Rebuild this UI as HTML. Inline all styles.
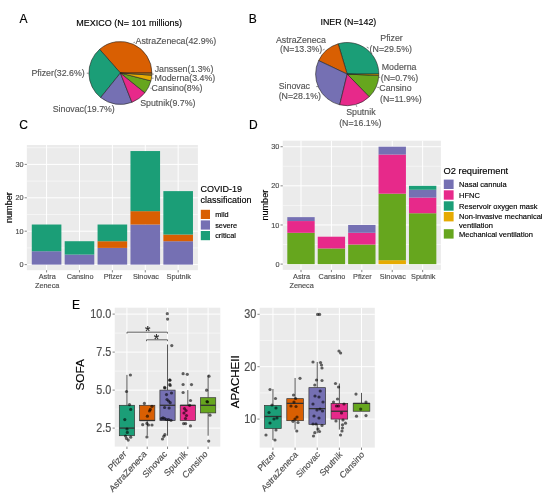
<!DOCTYPE html>
<html><head><meta charset="utf-8"><style>
html,body{margin:0;padding:0;background:#fff;}
svg{display:block;font-family:"Liberation Sans",sans-serif;-webkit-font-smoothing:antialiased;will-change:transform;}
</style></head><body>
<svg width="550" height="499" viewBox="0 0 550 499">
<rect width="550" height="499" fill="#fff"/>
<text x="19.60" y="23.10" font-size="12" fill="#000" text-anchor="start"  stroke="#000" stroke-width="0.15">A</text>
<text x="248.70" y="23.10" font-size="12" fill="#000" text-anchor="start"  stroke="#000" stroke-width="0.15">B</text>
<text x="19.30" y="129.00" font-size="12" fill="#000" text-anchor="start"  stroke="#000" stroke-width="0.15">C</text>
<text x="249.00" y="128.50" font-size="12" fill="#000" text-anchor="start"  stroke="#000" stroke-width="0.15">D</text>
<text x="72.00" y="309.40" font-size="12" fill="#000" text-anchor="start"  stroke="#000" stroke-width="0.15">E</text>
<text x="76.30" y="26.30" font-size="9" fill="#000" text-anchor="start"  stroke="#000" stroke-width="0.15">MEXICO (N= 101 millions)</text>
<path d="M120.40,73.00 L151.90,73.00 A31.5,31.5 0 0 0 99.60,49.34 Z" fill="#D95F02" stroke="#222" stroke-width="0.6" stroke-linejoin="round"/>
<path d="M120.40,73.00 L99.60,49.34 A31.5,31.5 0 0 0 100.63,97.52 Z" fill="#1B9E77" stroke="#222" stroke-width="0.6" stroke-linejoin="round"/>
<path d="M120.40,73.00 L100.63,97.52 A31.5,31.5 0 0 0 131.91,102.32 Z" fill="#7570B3" stroke="#222" stroke-width="0.6" stroke-linejoin="round"/>
<path d="M120.40,73.00 L131.91,102.32 A31.5,31.5 0 0 0 144.92,92.77 Z" fill="#E7298A" stroke="#222" stroke-width="0.6" stroke-linejoin="round"/>
<path d="M120.40,73.00 L144.92,92.77 A31.5,31.5 0 0 0 150.91,80.83 Z" fill="#66A61E" stroke="#222" stroke-width="0.6" stroke-linejoin="round"/>
<path d="M120.40,73.00 L150.91,80.83 A31.5,31.5 0 0 0 151.82,75.19 Z" fill="#E6AB02" stroke="#222" stroke-width="0.6" stroke-linejoin="round"/>
<path d="M120.40,73.00 L151.82,75.19 A31.5,31.5 0 0 0 151.90,73.00 Z" fill="#A6761D" stroke="#222" stroke-width="0.6" stroke-linejoin="round"/>
<text x="135.60" y="44.40" font-size="8.8" fill="#555" text-anchor="start"  stroke="#555" stroke-width="0.15">AstraZeneca(42.9%)</text>
<text x="154.70" y="72.40" font-size="8.8" fill="#555" text-anchor="start"  stroke="#555" stroke-width="0.15">Janssen(1.3%)</text>
<text x="154.50" y="81.30" font-size="8.8" fill="#555" text-anchor="start"  stroke="#555" stroke-width="0.15">Moderna(3.4%)</text>
<text x="151.60" y="91.30" font-size="8.8" fill="#555" text-anchor="start"  stroke="#555" stroke-width="0.15">Cansino(8%)</text>
<text x="140.20" y="105.80" font-size="8.8" fill="#555" text-anchor="start"  stroke="#555" stroke-width="0.15">Sputnik(9.7%)</text>
<text x="52.70" y="111.90" font-size="8.8" fill="#555" text-anchor="start"  stroke="#555" stroke-width="0.15">Sinovac(19.7%)</text>
<text x="31.40" y="75.90" font-size="8.8" fill="#555" text-anchor="start"  stroke="#555" stroke-width="0.15">Pfizer(32.6%)</text>
<line x1="133.50" y1="42.60" x2="135.00" y2="42.20" stroke="#444" stroke-width="0.6" />
<line x1="86.80" y1="73.20" x2="88.60" y2="73.20" stroke="#444" stroke-width="0.6" />
<line x1="151.80" y1="78.20" x2="153.60" y2="78.20" stroke="#444" stroke-width="0.6" />
<line x1="152.00" y1="74.10" x2="153.80" y2="74.10" stroke="#444" stroke-width="0.6" />
<line x1="150.40" y1="88.20" x2="151.60" y2="88.30" stroke="#444" stroke-width="0.6" />
<text x="320.50" y="24.80" font-size="8.85" fill="#000" text-anchor="start"  stroke="#000" stroke-width="0.15">INER (N=142)</text>
<line x1="322.60" y1="50.20" x2="324.60" y2="49.20" stroke="#444" stroke-width="0.6" />
<line x1="366.80" y1="47.00" x2="368.80" y2="48.20" stroke="#444" stroke-width="0.6" />
<line x1="316.20" y1="86.60" x2="318.20" y2="86.60" stroke="#444" stroke-width="0.6" />
<line x1="377.20" y1="87.40" x2="379.20" y2="87.40" stroke="#444" stroke-width="0.6" />
<line x1="356.20" y1="105.20" x2="356.80" y2="106.80" stroke="#444" stroke-width="0.6" />
<line x1="378.20" y1="76.80" x2="380.20" y2="77.60" stroke="#444" stroke-width="0.6" />
<path d="M347.20,74.10 L378.80,74.10 A31.6,31.6 0 0 0 338.16,43.82 Z" fill="#1B9E77" stroke="#222" stroke-width="0.6" stroke-linejoin="round"/>
<path d="M347.20,74.10 L338.16,43.82 A31.6,31.6 0 0 0 318.63,60.59 Z" fill="#D95F02" stroke="#222" stroke-width="0.6" stroke-linejoin="round"/>
<path d="M347.20,74.10 L318.63,60.59 A31.6,31.6 0 0 0 339.70,104.80 Z" fill="#7570B3" stroke="#222" stroke-width="0.6" stroke-linejoin="round"/>
<path d="M347.20,74.10 L339.70,104.80 A31.6,31.6 0 0 0 369.33,96.66 Z" fill="#E7298A" stroke="#222" stroke-width="0.6" stroke-linejoin="round"/>
<path d="M347.20,74.10 L369.33,96.66 A31.6,31.6 0 0 0 378.77,75.49 Z" fill="#66A61E" stroke="#222" stroke-width="0.6" stroke-linejoin="round"/>
<path d="M347.20,74.10 L378.77,75.49 A31.6,31.6 0 0 0 378.80,74.10 Z" fill="#E6AB02" stroke="#222" stroke-width="0.6" stroke-linejoin="round"/>
<text x="276.00" y="42.50" font-size="8.8" fill="#555" text-anchor="start"  stroke="#555" stroke-width="0.15">AstraZeneca</text>
<text x="280.00" y="51.90" font-size="8.8" fill="#555" text-anchor="start"  stroke="#555" stroke-width="0.15">(N=13.3%)</text>
<text x="380.30" y="41.00" font-size="8.8" fill="#555" text-anchor="start"  stroke="#555" stroke-width="0.15">Pfizer</text>
<text x="369.60" y="51.50" font-size="8.8" fill="#555" text-anchor="start"  stroke="#555" stroke-width="0.15">(N=29.5%)</text>
<text x="381.80" y="70.30" font-size="8.8" fill="#555" text-anchor="start"  stroke="#555" stroke-width="0.15">Moderna</text>
<text x="380.80" y="80.70" font-size="8.8" fill="#555" text-anchor="start"  stroke="#555" stroke-width="0.15">(N=0.7%)</text>
<text x="379.30" y="90.80" font-size="8.8" fill="#555" text-anchor="start"  stroke="#555" stroke-width="0.15">Cansino</text>
<text x="380.00" y="102.00" font-size="8.8" fill="#555" text-anchor="start"  stroke="#555" stroke-width="0.15">(N=11.9%)</text>
<text x="278.70" y="88.60" font-size="8.8" fill="#555" text-anchor="start"  stroke="#555" stroke-width="0.15">Sinovac</text>
<text x="278.70" y="99.20" font-size="8.8" fill="#555" text-anchor="start"  stroke="#555" stroke-width="0.15">(N=28.1%)</text>
<text x="346.20" y="114.80" font-size="8.8" fill="#555" text-anchor="start"  stroke="#555" stroke-width="0.15">Sputnik</text>
<text x="339.20" y="126.30" font-size="8.8" fill="#555" text-anchor="start"  stroke="#555" stroke-width="0.15">(N=16.1%)</text>
<rect x="26.85" y="145.00" width="171.05" height="125.20" fill="#EBEBEB" />
<line x1="26.85" y1="247.90" x2="197.90" y2="247.90" stroke="#fff" stroke-width="0.5" />
<line x1="26.85" y1="214.50" x2="197.90" y2="214.50" stroke="#fff" stroke-width="0.5" />
<line x1="26.85" y1="181.10" x2="197.90" y2="181.10" stroke="#fff" stroke-width="0.5" />
<line x1="26.85" y1="147.71" x2="197.90" y2="147.71" stroke="#fff" stroke-width="0.5" />
<line x1="26.85" y1="264.60" x2="197.90" y2="264.60" stroke="#fff" stroke-width="1" />
<line x1="26.85" y1="231.20" x2="197.90" y2="231.20" stroke="#fff" stroke-width="1" />
<line x1="26.85" y1="197.80" x2="197.90" y2="197.80" stroke="#fff" stroke-width="1" />
<line x1="26.85" y1="164.40" x2="197.90" y2="164.40" stroke="#fff" stroke-width="1" />
<line x1="46.59" y1="145.00" x2="46.59" y2="270.20" stroke="#fff" stroke-width="1" />
<line x1="79.48" y1="145.00" x2="79.48" y2="270.20" stroke="#fff" stroke-width="1" />
<line x1="112.38" y1="145.00" x2="112.38" y2="270.20" stroke="#fff" stroke-width="1" />
<line x1="145.27" y1="145.00" x2="145.27" y2="270.20" stroke="#fff" stroke-width="1" />
<line x1="178.16" y1="145.00" x2="178.16" y2="270.20" stroke="#fff" stroke-width="1" />
<rect x="31.78" y="251.24" width="29.60" height="13.36" fill="#7570B3" />
<rect x="31.78" y="224.52" width="29.60" height="26.72" fill="#1B9E77" />
<rect x="64.68" y="254.58" width="29.60" height="10.02" fill="#7570B3" />
<rect x="64.68" y="241.22" width="29.60" height="13.36" fill="#1B9E77" />
<rect x="97.57" y="247.90" width="29.60" height="16.70" fill="#7570B3" />
<rect x="97.57" y="241.22" width="29.60" height="6.68" fill="#D95F02" />
<rect x="97.57" y="224.52" width="29.60" height="16.70" fill="#1B9E77" />
<rect x="130.47" y="224.52" width="29.60" height="40.08" fill="#7570B3" />
<rect x="130.47" y="211.16" width="29.60" height="13.36" fill="#D95F02" />
<rect x="130.47" y="151.05" width="29.60" height="60.12" fill="#1B9E77" />
<rect x="163.36" y="241.22" width="29.60" height="23.38" fill="#7570B3" />
<rect x="163.36" y="234.54" width="29.60" height="6.68" fill="#D95F02" />
<rect x="163.36" y="191.12" width="29.60" height="43.42" fill="#1B9E77" />
<line x1="24.65" y1="264.60" x2="26.85" y2="264.60" stroke="#333333" stroke-width="0.6" />
<text x="23.55" y="267.20" font-size="7.3" fill="#4D4D4D" text-anchor="end"  stroke="#4D4D4D" stroke-width="0.15">0</text>
<line x1="24.65" y1="231.20" x2="26.85" y2="231.20" stroke="#333333" stroke-width="0.6" />
<text x="23.55" y="233.80" font-size="7.3" fill="#4D4D4D" text-anchor="end"  stroke="#4D4D4D" stroke-width="0.15">10</text>
<line x1="24.65" y1="197.80" x2="26.85" y2="197.80" stroke="#333333" stroke-width="0.6" />
<text x="23.55" y="200.40" font-size="7.3" fill="#4D4D4D" text-anchor="end"  stroke="#4D4D4D" stroke-width="0.15">20</text>
<line x1="24.65" y1="164.40" x2="26.85" y2="164.40" stroke="#333333" stroke-width="0.6" />
<text x="23.55" y="167.00" font-size="7.3" fill="#4D4D4D" text-anchor="end"  stroke="#4D4D4D" stroke-width="0.15">30</text>
<line x1="46.59" y1="270.20" x2="46.59" y2="272.40" stroke="#333333" stroke-width="0.6" />
<text x="47.19" y="279.20" font-size="7.3" fill="#4D4D4D" text-anchor="middle"  stroke="#4D4D4D" stroke-width="0.15">Astra</text>
<text x="47.19" y="288.10" font-size="7.3" fill="#4D4D4D" text-anchor="middle"  stroke="#4D4D4D" stroke-width="0.15">Zeneca</text>
<line x1="79.48" y1="270.20" x2="79.48" y2="272.40" stroke="#333333" stroke-width="0.6" />
<text x="80.08" y="279.20" font-size="7.3" fill="#4D4D4D" text-anchor="middle"  stroke="#4D4D4D" stroke-width="0.15">Cansino</text>
<line x1="112.38" y1="270.20" x2="112.38" y2="272.40" stroke="#333333" stroke-width="0.6" />
<text x="112.98" y="279.20" font-size="7.3" fill="#4D4D4D" text-anchor="middle"  stroke="#4D4D4D" stroke-width="0.15">Pfizer</text>
<line x1="145.27" y1="270.20" x2="145.27" y2="272.40" stroke="#333333" stroke-width="0.6" />
<text x="145.87" y="279.20" font-size="7.3" fill="#4D4D4D" text-anchor="middle"  stroke="#4D4D4D" stroke-width="0.15">Sinovac</text>
<line x1="178.16" y1="270.20" x2="178.16" y2="272.40" stroke="#333333" stroke-width="0.6" />
<text x="178.76" y="279.20" font-size="7.3" fill="#4D4D4D" text-anchor="middle"  stroke="#4D4D4D" stroke-width="0.15">Sputnik</text>
<text transform="translate(12.4,207.6) rotate(-90)" font-size="9.1" text-anchor="middle" fill="#000" stroke="#000" stroke-width="0.15">number</text>
<text x="200.50" y="191.70" font-size="9" fill="#000" text-anchor="start"  stroke="#000" stroke-width="0.15">COVID-19</text>
<text x="200.50" y="203.40" font-size="9" fill="#000" text-anchor="start"  stroke="#000" stroke-width="0.15">classification</text>
<rect x="200.80" y="209.80" width="9.20" height="9.20" fill="#D95F02" />
<text x="215.20" y="217.00" font-size="7.3" fill="#000" text-anchor="start"  stroke="#000" stroke-width="0.15">mild</text>
<rect x="200.80" y="220.40" width="9.20" height="9.20" fill="#7570B3" />
<text x="215.20" y="227.60" font-size="7.3" fill="#000" text-anchor="start"  stroke="#000" stroke-width="0.15">severe</text>
<rect x="200.80" y="231.00" width="9.20" height="9.20" fill="#1B9E77" />
<text x="215.20" y="238.20" font-size="7.3" fill="#000" text-anchor="start"  stroke="#000" stroke-width="0.15">critical</text>
<rect x="282.75" y="140.70" width="158.15" height="129.20" fill="#EBEBEB" />
<line x1="282.75" y1="244.54" x2="440.90" y2="244.54" stroke="#fff" stroke-width="0.5" />
<line x1="282.75" y1="205.41" x2="440.90" y2="205.41" stroke="#fff" stroke-width="0.5" />
<line x1="282.75" y1="166.28" x2="440.90" y2="166.28" stroke="#fff" stroke-width="0.5" />
<line x1="282.75" y1="264.10" x2="440.90" y2="264.10" stroke="#fff" stroke-width="1" />
<line x1="282.75" y1="224.97" x2="440.90" y2="224.97" stroke="#fff" stroke-width="1" />
<line x1="282.75" y1="185.84" x2="440.90" y2="185.84" stroke="#fff" stroke-width="1" />
<line x1="282.75" y1="146.71" x2="440.90" y2="146.71" stroke="#fff" stroke-width="1" />
<line x1="301.00" y1="140.70" x2="301.00" y2="269.90" stroke="#fff" stroke-width="1" />
<line x1="331.41" y1="140.70" x2="331.41" y2="269.90" stroke="#fff" stroke-width="1" />
<line x1="361.82" y1="140.70" x2="361.82" y2="269.90" stroke="#fff" stroke-width="1" />
<line x1="392.24" y1="140.70" x2="392.24" y2="269.90" stroke="#fff" stroke-width="1" />
<line x1="422.65" y1="140.70" x2="422.65" y2="269.90" stroke="#fff" stroke-width="1" />
<rect x="287.31" y="232.80" width="27.37" height="31.30" fill="#66A61E" />
<rect x="287.31" y="221.06" width="27.37" height="11.74" fill="#E7298A" />
<rect x="287.31" y="217.14" width="27.37" height="3.91" fill="#7570B3" />
<rect x="317.73" y="248.45" width="27.37" height="15.65" fill="#66A61E" />
<rect x="317.73" y="236.71" width="27.37" height="11.74" fill="#E7298A" />
<rect x="348.14" y="244.54" width="27.37" height="19.57" fill="#66A61E" />
<rect x="348.14" y="232.80" width="27.37" height="11.74" fill="#E7298A" />
<rect x="348.14" y="224.97" width="27.37" height="7.83" fill="#7570B3" />
<rect x="378.55" y="260.19" width="27.37" height="3.91" fill="#E6AB02" />
<rect x="378.55" y="193.67" width="27.37" height="66.52" fill="#66A61E" />
<rect x="378.55" y="154.54" width="27.37" height="39.13" fill="#E7298A" />
<rect x="378.55" y="146.71" width="27.37" height="7.83" fill="#7570B3" />
<rect x="408.97" y="213.23" width="27.37" height="50.87" fill="#66A61E" />
<rect x="408.97" y="197.58" width="27.37" height="15.65" fill="#E7298A" />
<rect x="408.97" y="189.75" width="27.37" height="7.83" fill="#7570B3" />
<rect x="408.97" y="185.84" width="27.37" height="3.91" fill="#1B9E77" />
<line x1="280.55" y1="264.10" x2="282.75" y2="264.10" stroke="#333333" stroke-width="0.6" />
<text x="279.45" y="266.70" font-size="7.3" fill="#4D4D4D" text-anchor="end"  stroke="#4D4D4D" stroke-width="0.15">0</text>
<line x1="280.55" y1="224.97" x2="282.75" y2="224.97" stroke="#333333" stroke-width="0.6" />
<text x="279.45" y="227.57" font-size="7.3" fill="#4D4D4D" text-anchor="end"  stroke="#4D4D4D" stroke-width="0.15">10</text>
<line x1="280.55" y1="185.84" x2="282.75" y2="185.84" stroke="#333333" stroke-width="0.6" />
<text x="279.45" y="188.44" font-size="7.3" fill="#4D4D4D" text-anchor="end"  stroke="#4D4D4D" stroke-width="0.15">20</text>
<line x1="280.55" y1="146.71" x2="282.75" y2="146.71" stroke="#333333" stroke-width="0.6" />
<text x="279.45" y="149.31" font-size="7.3" fill="#4D4D4D" text-anchor="end"  stroke="#4D4D4D" stroke-width="0.15">30</text>
<line x1="301.00" y1="269.90" x2="301.00" y2="272.10" stroke="#333333" stroke-width="0.6" />
<text x="301.60" y="278.90" font-size="7.3" fill="#4D4D4D" text-anchor="middle"  stroke="#4D4D4D" stroke-width="0.15">Astra</text>
<text x="301.60" y="287.80" font-size="7.3" fill="#4D4D4D" text-anchor="middle"  stroke="#4D4D4D" stroke-width="0.15">Zeneca</text>
<line x1="331.41" y1="269.90" x2="331.41" y2="272.10" stroke="#333333" stroke-width="0.6" />
<text x="332.01" y="278.90" font-size="7.3" fill="#4D4D4D" text-anchor="middle"  stroke="#4D4D4D" stroke-width="0.15">Cansino</text>
<line x1="361.82" y1="269.90" x2="361.82" y2="272.10" stroke="#333333" stroke-width="0.6" />
<text x="362.43" y="278.90" font-size="7.3" fill="#4D4D4D" text-anchor="middle"  stroke="#4D4D4D" stroke-width="0.15">Pfizer</text>
<line x1="392.24" y1="269.90" x2="392.24" y2="272.10" stroke="#333333" stroke-width="0.6" />
<text x="392.84" y="278.90" font-size="7.3" fill="#4D4D4D" text-anchor="middle"  stroke="#4D4D4D" stroke-width="0.15">Sinovac</text>
<line x1="422.65" y1="269.90" x2="422.65" y2="272.10" stroke="#333333" stroke-width="0.6" />
<text x="423.25" y="278.90" font-size="7.3" fill="#4D4D4D" text-anchor="middle"  stroke="#4D4D4D" stroke-width="0.15">Sputnik</text>
<text transform="translate(268.2,205.2) rotate(-90)" font-size="9.1" text-anchor="middle" fill="#000" stroke="#000" stroke-width="0.15">number</text>
<text x="443.60" y="174.20" font-size="9.3" fill="#000" text-anchor="start"  stroke="#000" stroke-width="0.15">O2 requirement</text>
<rect x="443.80" y="179.60" width="9.80" height="9.40" fill="#7570B3" />
<text x="459.10" y="186.90" font-size="7.5" fill="#000" text-anchor="start"  stroke="#000" stroke-width="0.15">Nasal cannula</text>
<rect x="443.80" y="190.30" width="9.80" height="9.40" fill="#E7298A" />
<text x="459.10" y="197.60" font-size="7.5" fill="#000" text-anchor="start"  stroke="#000" stroke-width="0.15">HFNC</text>
<rect x="443.80" y="201.30" width="9.80" height="9.40" fill="#1B9E77" />
<text x="459.10" y="208.60" font-size="7.5" fill="#000" text-anchor="start"  stroke="#000" stroke-width="0.15">Reservoir oxygen mask</text>
<rect x="443.80" y="212.00" width="9.80" height="9.40" fill="#E6AB02" />
<text x="459.10" y="219.30" font-size="7.5" fill="#000" text-anchor="start"  stroke="#000" stroke-width="0.15">Non-invasive mechanical</text>
<rect x="443.80" y="229.20" width="9.80" height="9.40" fill="#66A61E" />
<text x="459.10" y="236.50" font-size="7.5" fill="#000" text-anchor="start"  stroke="#000" stroke-width="0.15">Mechanical ventilation</text>
<text x="459.10" y="228.40" font-size="7.5" fill="#000" text-anchor="start"  stroke="#000" stroke-width="0.15">ventilation</text>
<rect x="114.75" y="307.70" width="105.55" height="138.90" fill="#EBEBEB" />
<line x1="114.75" y1="409.10" x2="220.30" y2="409.10" stroke="#fff" stroke-width="0.5" />
<line x1="114.75" y1="371.10" x2="220.30" y2="371.10" stroke="#fff" stroke-width="0.5" />
<line x1="114.75" y1="333.10" x2="220.30" y2="333.10" stroke="#fff" stroke-width="0.5" />
<line x1="114.75" y1="428.10" x2="220.30" y2="428.10" stroke="#fff" stroke-width="1" />
<line x1="114.75" y1="390.10" x2="220.30" y2="390.10" stroke="#fff" stroke-width="1" />
<line x1="114.75" y1="352.10" x2="220.30" y2="352.10" stroke="#fff" stroke-width="1" />
<line x1="114.75" y1="314.10" x2="220.30" y2="314.10" stroke="#fff" stroke-width="1" />
<line x1="126.93" y1="307.70" x2="126.93" y2="446.60" stroke="#fff" stroke-width="1" />
<line x1="147.23" y1="307.70" x2="147.23" y2="446.60" stroke="#fff" stroke-width="1" />
<line x1="167.53" y1="307.70" x2="167.53" y2="446.60" stroke="#fff" stroke-width="1" />
<line x1="187.82" y1="307.70" x2="187.82" y2="446.60" stroke="#fff" stroke-width="1" />
<line x1="208.12" y1="307.70" x2="208.12" y2="446.60" stroke="#fff" stroke-width="1" />
<line x1="126.93" y1="374.90" x2="126.93" y2="405.30" stroke="#555" stroke-width="1.0" />
<line x1="126.93" y1="435.70" x2="126.93" y2="435.70" stroke="#555" stroke-width="1.0" />
<rect x="119.32" y="405.30" width="15.22" height="30.40" fill="#1B9E77" stroke="#333" stroke-width="0.7"/>
<line x1="119.32" y1="428.10" x2="134.54" y2="428.10" stroke="#333" stroke-width="1.3" />
<line x1="147.23" y1="405.30" x2="147.23" y2="405.30" stroke="#555" stroke-width="1.0" />
<line x1="147.23" y1="420.50" x2="147.23" y2="435.70" stroke="#555" stroke-width="1.0" />
<rect x="139.62" y="405.30" width="15.22" height="15.20" fill="#D95F02" stroke="#333" stroke-width="0.7"/>
<line x1="139.62" y1="420.50" x2="154.84" y2="420.50" stroke="#333" stroke-width="1.3" />
<line x1="167.53" y1="344.50" x2="167.53" y2="390.10" stroke="#555" stroke-width="1.0" />
<line x1="167.53" y1="420.50" x2="167.53" y2="435.70" stroke="#555" stroke-width="1.0" />
<rect x="159.91" y="390.10" width="15.22" height="30.40" fill="#7570B3" stroke="#333" stroke-width="0.7"/>
<line x1="159.91" y1="405.30" x2="175.14" y2="405.30" stroke="#333" stroke-width="1.3" />
<line x1="187.82" y1="390.10" x2="187.82" y2="405.30" stroke="#555" stroke-width="1.0" />
<line x1="187.82" y1="420.50" x2="187.82" y2="420.50" stroke="#555" stroke-width="1.0" />
<rect x="180.21" y="405.30" width="15.22" height="15.20" fill="#E7298A" stroke="#333" stroke-width="0.7"/>
<line x1="180.21" y1="405.30" x2="195.43" y2="405.30" stroke="#333" stroke-width="1.3" />
<line x1="208.12" y1="374.90" x2="208.12" y2="397.70" stroke="#555" stroke-width="1.0" />
<line x1="208.12" y1="412.90" x2="208.12" y2="435.70" stroke="#555" stroke-width="1.0" />
<rect x="200.51" y="397.70" width="15.22" height="15.20" fill="#66A61E" stroke="#333" stroke-width="0.7"/>
<line x1="200.51" y1="405.30" x2="215.73" y2="405.30" stroke="#333" stroke-width="1.3" />
<circle cx="130.40" cy="375.00" r="1.6" fill="#000" fill-opacity="0.6"/>
<circle cx="126.50" cy="391.50" r="1.6" fill="#000" fill-opacity="0.6"/>
<circle cx="129.50" cy="404.60" r="1.6" fill="#000" fill-opacity="0.6"/>
<circle cx="130.70" cy="409.40" r="1.6" fill="#000" fill-opacity="0.6"/>
<circle cx="124.80" cy="419.60" r="1.6" fill="#000" fill-opacity="0.6"/>
<circle cx="127.00" cy="429.00" r="1.6" fill="#000" fill-opacity="0.6"/>
<circle cx="127.30" cy="432.40" r="1.6" fill="#000" fill-opacity="0.6"/>
<circle cx="126.50" cy="438.40" r="1.6" fill="#000" fill-opacity="0.6"/>
<circle cx="128.20" cy="440.10" r="1.6" fill="#000" fill-opacity="0.6"/>
<circle cx="130.70" cy="437.20" r="1.6" fill="#000" fill-opacity="0.6"/>
<circle cx="125.50" cy="436.00" r="1.6" fill="#000" fill-opacity="0.6"/>
<circle cx="144.40" cy="403.40" r="1.6" fill="#000" fill-opacity="0.6"/>
<circle cx="152.00" cy="406.30" r="1.6" fill="#000" fill-opacity="0.6"/>
<circle cx="150.30" cy="409.40" r="1.6" fill="#000" fill-opacity="0.6"/>
<circle cx="149.50" cy="411.00" r="1.6" fill="#000" fill-opacity="0.6"/>
<circle cx="147.40" cy="416.20" r="1.6" fill="#000" fill-opacity="0.6"/>
<circle cx="142.70" cy="424.70" r="1.6" fill="#000" fill-opacity="0.6"/>
<circle cx="146.90" cy="423.40" r="1.6" fill="#000" fill-opacity="0.6"/>
<circle cx="148.50" cy="425.00" r="1.6" fill="#000" fill-opacity="0.6"/>
<circle cx="152.00" cy="425.00" r="1.6" fill="#000" fill-opacity="0.6"/>
<circle cx="146.90" cy="437.00" r="1.6" fill="#000" fill-opacity="0.6"/>
<circle cx="167.30" cy="313.70" r="1.6" fill="#000" fill-opacity="0.6"/>
<circle cx="167.60" cy="319.10" r="1.6" fill="#000" fill-opacity="0.6"/>
<circle cx="171.80" cy="345.60" r="1.6" fill="#000" fill-opacity="0.6"/>
<circle cx="169.80" cy="380.00" r="1.6" fill="#000" fill-opacity="0.6"/>
<circle cx="169.80" cy="384.40" r="1.6" fill="#000" fill-opacity="0.6"/>
<circle cx="164.90" cy="388.00" r="1.6" fill="#000" fill-opacity="0.6"/>
<circle cx="169.90" cy="380.20" r="1.6" fill="#000" fill-opacity="0.6"/>
<circle cx="170.20" cy="385.50" r="1.6" fill="#000" fill-opacity="0.6"/>
<circle cx="164.60" cy="387.40" r="1.6" fill="#000" fill-opacity="0.6"/>
<circle cx="171.50" cy="393.00" r="1.6" fill="#000" fill-opacity="0.6"/>
<circle cx="166.50" cy="394.60" r="1.6" fill="#000" fill-opacity="0.6"/>
<circle cx="167.00" cy="399.50" r="1.6" fill="#000" fill-opacity="0.6"/>
<circle cx="168.60" cy="401.00" r="1.6" fill="#000" fill-opacity="0.6"/>
<circle cx="170.20" cy="402.70" r="1.6" fill="#000" fill-opacity="0.6"/>
<circle cx="164.60" cy="407.50" r="1.6" fill="#000" fill-opacity="0.6"/>
<circle cx="169.10" cy="408.00" r="1.6" fill="#000" fill-opacity="0.6"/>
<circle cx="163.00" cy="417.90" r="1.6" fill="#000" fill-opacity="0.6"/>
<circle cx="164.60" cy="418.70" r="1.6" fill="#000" fill-opacity="0.6"/>
<circle cx="166.50" cy="419.50" r="1.6" fill="#000" fill-opacity="0.6"/>
<circle cx="168.60" cy="419.50" r="1.6" fill="#000" fill-opacity="0.6"/>
<circle cx="171.00" cy="420.30" r="1.6" fill="#000" fill-opacity="0.6"/>
<circle cx="161.40" cy="418.70" r="1.6" fill="#000" fill-opacity="0.6"/>
<circle cx="164.90" cy="434.70" r="1.6" fill="#000" fill-opacity="0.6"/>
<circle cx="163.80" cy="436.30" r="1.6" fill="#000" fill-opacity="0.6"/>
<circle cx="162.50" cy="439.00" r="1.6" fill="#000" fill-opacity="0.6"/>
<circle cx="183.10" cy="373.70" r="1.6" fill="#000" fill-opacity="0.6"/>
<circle cx="187.30" cy="374.30" r="1.6" fill="#000" fill-opacity="0.6"/>
<circle cx="183.10" cy="384.50" r="1.6" fill="#000" fill-opacity="0.6"/>
<circle cx="191.50" cy="384.60" r="1.6" fill="#000" fill-opacity="0.6"/>
<circle cx="183.10" cy="392.50" r="1.6" fill="#000" fill-opacity="0.6"/>
<circle cx="190.50" cy="400.50" r="1.6" fill="#000" fill-opacity="0.6"/>
<circle cx="189.60" cy="405.30" r="1.6" fill="#000" fill-opacity="0.6"/>
<circle cx="184.50" cy="408.50" r="1.6" fill="#000" fill-opacity="0.6"/>
<circle cx="186.00" cy="410.50" r="1.6" fill="#000" fill-opacity="0.6"/>
<circle cx="184.00" cy="413.00" r="1.6" fill="#000" fill-opacity="0.6"/>
<circle cx="186.50" cy="415.50" r="1.6" fill="#000" fill-opacity="0.6"/>
<circle cx="185.50" cy="418.50" r="1.6" fill="#000" fill-opacity="0.6"/>
<circle cx="183.60" cy="423.60" r="1.6" fill="#000" fill-opacity="0.6"/>
<circle cx="185.60" cy="423.60" r="1.6" fill="#000" fill-opacity="0.6"/>
<circle cx="190.50" cy="425.90" r="1.6" fill="#000" fill-opacity="0.6"/>
<circle cx="209.00" cy="376.20" r="1.6" fill="#000" fill-opacity="0.6"/>
<circle cx="206.60" cy="390.20" r="1.6" fill="#000" fill-opacity="0.6"/>
<circle cx="207.00" cy="401.50" r="1.6" fill="#000" fill-opacity="0.6"/>
<circle cx="207.50" cy="402.00" r="1.6" fill="#000" fill-opacity="0.6"/>
<circle cx="210.00" cy="415.20" r="1.6" fill="#000" fill-opacity="0.6"/>
<circle cx="208.70" cy="441.10" r="1.6" fill="#000" fill-opacity="0.6"/>
<line x1="112.55" y1="428.10" x2="114.75" y2="428.10" stroke="#333333" stroke-width="0.6" />
<text transform="translate(111.15,431.70) scale(1,1.1)" font-size="10.8" fill="#4D4D4D" text-anchor="end" stroke="#4D4D4D" stroke-width="0.15">2.5</text>
<line x1="112.55" y1="390.10" x2="114.75" y2="390.10" stroke="#333333" stroke-width="0.6" />
<text transform="translate(111.15,393.70) scale(1,1.1)" font-size="10.8" fill="#4D4D4D" text-anchor="end" stroke="#4D4D4D" stroke-width="0.15">5.0</text>
<line x1="112.55" y1="352.10" x2="114.75" y2="352.10" stroke="#333333" stroke-width="0.6" />
<text transform="translate(111.15,355.70) scale(1,1.1)" font-size="10.8" fill="#4D4D4D" text-anchor="end" stroke="#4D4D4D" stroke-width="0.15">7.5</text>
<line x1="112.55" y1="314.10" x2="114.75" y2="314.10" stroke="#333333" stroke-width="0.6" />
<text transform="translate(111.15,317.70) scale(1,1.1)" font-size="10.8" fill="#4D4D4D" text-anchor="end" stroke="#4D4D4D" stroke-width="0.15">10.0</text>
<line x1="126.93" y1="446.60" x2="126.93" y2="449.00" stroke="#333333" stroke-width="0.6" />
<text transform="translate(126.93,454.60) scale(1,1.1) rotate(-45)" font-size="8.6" fill="#4D4D4D" text-anchor="end" stroke="#4D4D4D" stroke-width="0.15">Pfizer</text>
<line x1="147.23" y1="446.60" x2="147.23" y2="449.00" stroke="#333333" stroke-width="0.6" />
<text transform="translate(147.23,454.60) scale(1,1.1) rotate(-45)" font-size="8.6" fill="#4D4D4D" text-anchor="end" stroke="#4D4D4D" stroke-width="0.15">AstraZeneca</text>
<line x1="167.53" y1="446.60" x2="167.53" y2="449.00" stroke="#333333" stroke-width="0.6" />
<text transform="translate(167.53,454.60) scale(1,1.1) rotate(-45)" font-size="8.6" fill="#4D4D4D" text-anchor="end" stroke="#4D4D4D" stroke-width="0.15">Sinovac</text>
<line x1="187.82" y1="446.60" x2="187.82" y2="449.00" stroke="#333333" stroke-width="0.6" />
<text transform="translate(187.82,454.60) scale(1,1.1) rotate(-45)" font-size="8.6" fill="#4D4D4D" text-anchor="end" stroke="#4D4D4D" stroke-width="0.15">Sputnik</text>
<line x1="208.12" y1="446.60" x2="208.12" y2="449.00" stroke="#333333" stroke-width="0.6" />
<text transform="translate(208.12,454.60) scale(1,1.1) rotate(-45)" font-size="8.6" fill="#4D4D4D" text-anchor="end" stroke="#4D4D4D" stroke-width="0.15">Cansino</text>
<text transform="translate(83.5,374.8) scale(1,1.1) rotate(-90)" font-size="10.7" text-anchor="middle" fill="#000" stroke="#000" stroke-width="0.15">SOFA</text>
<path d="M127,333.59999999999997 L127,332.2 L167.5,332.2 L167.5,333.59999999999997" fill="none" stroke="#555" stroke-width="0.9"/>
<text x="147.80" y="336.00" font-size="14" fill="#222" text-anchor="middle"  stroke="#222" stroke-width="0.15">*</text>
<path d="M146.5,341.2 L146.5,339.8 L167.5,339.8 L167.5,341.2" fill="none" stroke="#555" stroke-width="0.9"/>
<text x="156.60" y="343.70" font-size="14" fill="#222" text-anchor="middle"  stroke="#222" stroke-width="0.15">*</text>
<rect x="259.65" y="307.80" width="115.15" height="139.80" fill="#EBEBEB" />
<line x1="259.65" y1="392.90" x2="374.80" y2="392.90" stroke="#fff" stroke-width="0.5" />
<line x1="259.65" y1="340.50" x2="374.80" y2="340.50" stroke="#fff" stroke-width="0.5" />
<line x1="259.65" y1="419.10" x2="374.80" y2="419.10" stroke="#fff" stroke-width="1" />
<line x1="259.65" y1="366.70" x2="374.80" y2="366.70" stroke="#fff" stroke-width="1" />
<line x1="259.65" y1="314.30" x2="374.80" y2="314.30" stroke="#fff" stroke-width="1" />
<line x1="272.94" y1="307.80" x2="272.94" y2="447.60" stroke="#fff" stroke-width="1" />
<line x1="295.08" y1="307.80" x2="295.08" y2="447.60" stroke="#fff" stroke-width="1" />
<line x1="317.22" y1="307.80" x2="317.22" y2="447.60" stroke="#fff" stroke-width="1" />
<line x1="339.37" y1="307.80" x2="339.37" y2="447.60" stroke="#fff" stroke-width="1" />
<line x1="361.51" y1="307.80" x2="361.51" y2="447.60" stroke="#fff" stroke-width="1" />
<line x1="272.94" y1="388.97" x2="272.94" y2="405.48" stroke="#555" stroke-width="1.0" />
<line x1="272.94" y1="428.53" x2="272.94" y2="440.06" stroke="#555" stroke-width="1.0" />
<rect x="264.63" y="405.48" width="16.61" height="23.06" fill="#1B9E77" stroke="#333" stroke-width="0.7"/>
<line x1="264.63" y1="416.48" x2="281.24" y2="416.48" stroke="#333" stroke-width="1.3" />
<line x1="295.08" y1="377.97" x2="295.08" y2="398.66" stroke="#555" stroke-width="1.0" />
<line x1="295.08" y1="420.67" x2="295.08" y2="429.58" stroke="#555" stroke-width="1.0" />
<rect x="286.78" y="398.66" width="16.61" height="22.01" fill="#D95F02" stroke="#333" stroke-width="0.7"/>
<line x1="286.78" y1="403.38" x2="303.38" y2="403.38" stroke="#333" stroke-width="1.3" />
<line x1="317.22" y1="361.98" x2="317.22" y2="387.66" stroke="#555" stroke-width="1.0" />
<line x1="317.22" y1="424.34" x2="317.22" y2="433.25" stroke="#555" stroke-width="1.0" />
<rect x="308.92" y="387.66" width="16.61" height="36.68" fill="#7570B3" stroke="#333" stroke-width="0.7"/>
<line x1="308.92" y1="408.62" x2="325.53" y2="408.62" stroke="#333" stroke-width="1.3" />
<line x1="339.37" y1="383.47" x2="339.37" y2="403.38" stroke="#555" stroke-width="1.0" />
<line x1="339.37" y1="419.10" x2="339.37" y2="429.58" stroke="#555" stroke-width="1.0" />
<rect x="331.07" y="403.38" width="16.61" height="15.72" fill="#E7298A" stroke="#333" stroke-width="0.7"/>
<line x1="331.07" y1="411.24" x2="347.67" y2="411.24" stroke="#333" stroke-width="1.3" />
<line x1="361.51" y1="392.90" x2="361.51" y2="403.38" stroke="#555" stroke-width="1.0" />
<line x1="361.51" y1="411.24" x2="361.51" y2="411.24" stroke="#555" stroke-width="1.0" />
<rect x="353.21" y="403.38" width="16.61" height="7.86" fill="#66A61E" stroke="#333" stroke-width="0.7"/>
<line x1="353.21" y1="403.38" x2="369.82" y2="403.38" stroke="#333" stroke-width="1.3" />
<circle cx="270.00" cy="389.50" r="1.6" fill="#000" fill-opacity="0.6"/>
<circle cx="275.50" cy="398.50" r="1.6" fill="#000" fill-opacity="0.6"/>
<circle cx="272.00" cy="405.00" r="1.6" fill="#000" fill-opacity="0.6"/>
<circle cx="276.00" cy="408.00" r="1.6" fill="#000" fill-opacity="0.6"/>
<circle cx="269.00" cy="412.50" r="1.6" fill="#000" fill-opacity="0.6"/>
<circle cx="274.00" cy="419.00" r="1.6" fill="#000" fill-opacity="0.6"/>
<circle cx="277.00" cy="418.00" r="1.6" fill="#000" fill-opacity="0.6"/>
<circle cx="270.00" cy="423.00" r="1.6" fill="#000" fill-opacity="0.6"/>
<circle cx="276.00" cy="430.00" r="1.6" fill="#000" fill-opacity="0.6"/>
<circle cx="266.00" cy="435.00" r="1.6" fill="#000" fill-opacity="0.6"/>
<circle cx="275.00" cy="440.00" r="1.6" fill="#000" fill-opacity="0.6"/>
<circle cx="300.00" cy="378.30" r="1.6" fill="#000" fill-opacity="0.6"/>
<circle cx="293.50" cy="395.00" r="1.6" fill="#000" fill-opacity="0.6"/>
<circle cx="295.60" cy="398.50" r="1.6" fill="#000" fill-opacity="0.6"/>
<circle cx="294.00" cy="402.00" r="1.6" fill="#000" fill-opacity="0.6"/>
<circle cx="291.00" cy="406.00" r="1.6" fill="#000" fill-opacity="0.6"/>
<circle cx="296.00" cy="406.50" r="1.6" fill="#000" fill-opacity="0.6"/>
<circle cx="297.00" cy="417.00" r="1.6" fill="#000" fill-opacity="0.6"/>
<circle cx="295.00" cy="419.00" r="1.6" fill="#000" fill-opacity="0.6"/>
<circle cx="293.00" cy="421.30" r="1.6" fill="#000" fill-opacity="0.6"/>
<circle cx="298.00" cy="422.50" r="1.6" fill="#000" fill-opacity="0.6"/>
<circle cx="296.80" cy="431.00" r="1.6" fill="#000" fill-opacity="0.6"/>
<circle cx="317.60" cy="314.40" r="1.6" fill="#000" fill-opacity="0.6"/>
<circle cx="319.60" cy="314.40" r="1.6" fill="#000" fill-opacity="0.6"/>
<circle cx="313.00" cy="362.00" r="1.6" fill="#000" fill-opacity="0.6"/>
<circle cx="320.50" cy="362.50" r="1.6" fill="#000" fill-opacity="0.6"/>
<circle cx="321.50" cy="365.00" r="1.6" fill="#000" fill-opacity="0.6"/>
<circle cx="322.00" cy="368.00" r="1.6" fill="#000" fill-opacity="0.6"/>
<circle cx="316.50" cy="380.00" r="1.6" fill="#000" fill-opacity="0.6"/>
<circle cx="322.00" cy="380.50" r="1.6" fill="#000" fill-opacity="0.6"/>
<circle cx="314.80" cy="385.00" r="1.6" fill="#000" fill-opacity="0.6"/>
<circle cx="320.20" cy="391.00" r="1.6" fill="#000" fill-opacity="0.6"/>
<circle cx="315.00" cy="396.00" r="1.6" fill="#000" fill-opacity="0.6"/>
<circle cx="319.00" cy="397.00" r="1.6" fill="#000" fill-opacity="0.6"/>
<circle cx="323.00" cy="402.00" r="1.6" fill="#000" fill-opacity="0.6"/>
<circle cx="313.00" cy="404.00" r="1.6" fill="#000" fill-opacity="0.6"/>
<circle cx="320.00" cy="409.00" r="1.6" fill="#000" fill-opacity="0.6"/>
<circle cx="317.00" cy="410.00" r="1.6" fill="#000" fill-opacity="0.6"/>
<circle cx="322.50" cy="411.00" r="1.6" fill="#000" fill-opacity="0.6"/>
<circle cx="314.00" cy="416.00" r="1.6" fill="#000" fill-opacity="0.6"/>
<circle cx="319.00" cy="418.00" r="1.6" fill="#000" fill-opacity="0.6"/>
<circle cx="313.00" cy="424.00" r="1.6" fill="#000" fill-opacity="0.6"/>
<circle cx="316.00" cy="424.00" r="1.6" fill="#000" fill-opacity="0.6"/>
<circle cx="322.00" cy="425.50" r="1.6" fill="#000" fill-opacity="0.6"/>
<circle cx="318.00" cy="429.00" r="1.6" fill="#000" fill-opacity="0.6"/>
<circle cx="314.80" cy="432.70" r="1.6" fill="#000" fill-opacity="0.6"/>
<circle cx="319.50" cy="431.50" r="1.6" fill="#000" fill-opacity="0.6"/>
<circle cx="313.50" cy="436.00" r="1.6" fill="#000" fill-opacity="0.6"/>
<circle cx="339.00" cy="351.00" r="1.6" fill="#000" fill-opacity="0.6"/>
<circle cx="340.60" cy="353.00" r="1.6" fill="#000" fill-opacity="0.6"/>
<circle cx="335.50" cy="383.50" r="1.6" fill="#000" fill-opacity="0.6"/>
<circle cx="338.50" cy="387.00" r="1.6" fill="#000" fill-opacity="0.6"/>
<circle cx="337.50" cy="399.00" r="1.6" fill="#000" fill-opacity="0.6"/>
<circle cx="333.50" cy="402.00" r="1.6" fill="#000" fill-opacity="0.6"/>
<circle cx="336.50" cy="406.00" r="1.6" fill="#000" fill-opacity="0.6"/>
<circle cx="338.50" cy="406.00" r="1.6" fill="#000" fill-opacity="0.6"/>
<circle cx="344.00" cy="404.00" r="1.6" fill="#000" fill-opacity="0.6"/>
<circle cx="341.50" cy="413.00" r="1.6" fill="#000" fill-opacity="0.6"/>
<circle cx="336.00" cy="421.00" r="1.6" fill="#000" fill-opacity="0.6"/>
<circle cx="343.00" cy="420.00" r="1.6" fill="#000" fill-opacity="0.6"/>
<circle cx="345.50" cy="423.20" r="1.6" fill="#000" fill-opacity="0.6"/>
<circle cx="342.50" cy="424.80" r="1.6" fill="#000" fill-opacity="0.6"/>
<circle cx="342.50" cy="428.00" r="1.6" fill="#000" fill-opacity="0.6"/>
<circle cx="342.00" cy="431.00" r="1.6" fill="#000" fill-opacity="0.6"/>
<circle cx="340.50" cy="435.00" r="1.6" fill="#000" fill-opacity="0.6"/>
<circle cx="356.00" cy="394.10" r="1.6" fill="#000" fill-opacity="0.6"/>
<circle cx="366.00" cy="402.10" r="1.6" fill="#000" fill-opacity="0.6"/>
<circle cx="360.70" cy="409.10" r="1.6" fill="#000" fill-opacity="0.6"/>
<circle cx="356.50" cy="416.20" r="1.6" fill="#000" fill-opacity="0.6"/>
<circle cx="366.00" cy="415.60" r="1.6" fill="#000" fill-opacity="0.6"/>
<line x1="257.45" y1="419.10" x2="259.65" y2="419.10" stroke="#333333" stroke-width="0.6" />
<text transform="translate(256.15,423.00) scale(1,1.1)" font-size="10.8" fill="#4D4D4D" text-anchor="end" stroke="#4D4D4D" stroke-width="0.15">10</text>
<line x1="257.45" y1="366.70" x2="259.65" y2="366.70" stroke="#333333" stroke-width="0.6" />
<text transform="translate(256.15,370.60) scale(1,1.1)" font-size="10.8" fill="#4D4D4D" text-anchor="end" stroke="#4D4D4D" stroke-width="0.15">20</text>
<line x1="257.45" y1="314.30" x2="259.65" y2="314.30" stroke="#333333" stroke-width="0.6" />
<text transform="translate(256.15,318.20) scale(1,1.1)" font-size="10.8" fill="#4D4D4D" text-anchor="end" stroke="#4D4D4D" stroke-width="0.15">30</text>
<line x1="272.94" y1="447.60" x2="272.94" y2="450.00" stroke="#333333" stroke-width="0.6" />
<text transform="translate(276.24,455.10) scale(1,1.1) rotate(-45)" font-size="8.4" fill="#4D4D4D" text-anchor="end" stroke="#4D4D4D" stroke-width="0.15">Pfizer</text>
<line x1="295.08" y1="447.60" x2="295.08" y2="450.00" stroke="#333333" stroke-width="0.6" />
<text transform="translate(298.38,455.10) scale(1,1.1) rotate(-45)" font-size="8.4" fill="#4D4D4D" text-anchor="end" stroke="#4D4D4D" stroke-width="0.15">AstraZeneca</text>
<line x1="317.22" y1="447.60" x2="317.22" y2="450.00" stroke="#333333" stroke-width="0.6" />
<text transform="translate(320.52,455.10) scale(1,1.1) rotate(-45)" font-size="8.4" fill="#4D4D4D" text-anchor="end" stroke="#4D4D4D" stroke-width="0.15">Sinovac</text>
<line x1="339.37" y1="447.60" x2="339.37" y2="450.00" stroke="#333333" stroke-width="0.6" />
<text transform="translate(342.67,455.10) scale(1,1.1) rotate(-45)" font-size="8.4" fill="#4D4D4D" text-anchor="end" stroke="#4D4D4D" stroke-width="0.15">Sputnik</text>
<line x1="361.51" y1="447.60" x2="361.51" y2="450.00" stroke="#333333" stroke-width="0.6" />
<text transform="translate(364.81,455.10) scale(1,1.1) rotate(-45)" font-size="8.4" fill="#4D4D4D" text-anchor="end" stroke="#4D4D4D" stroke-width="0.15">Cansino</text>
<text transform="translate(238.7,381.8) scale(1,1.1) rotate(-90)" font-size="10.5" text-anchor="middle" fill="#000" stroke="#000" stroke-width="0.15">APACHEII</text>
</svg>
</body></html>
